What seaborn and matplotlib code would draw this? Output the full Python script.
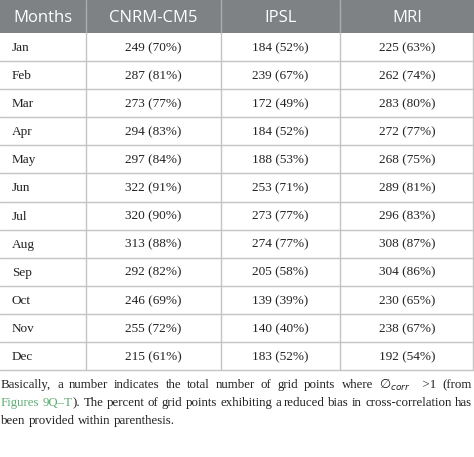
import seaborn as sns
import matplotlib.pyplot as plt
import numpy as np

months = ['Jan', 'Feb', 'Mar', 'Apr', 'May', 'Jun', 'Jul', 'Aug', 'Sep', 'Oct', 'Nov', 'Dec']
columns = ['Months', 'CNRM-CM5', 'IPSL', 'MRI']
cnrm = ['249 (70%)', '287 (81%)', '273 (77%)', '294 (83%)', '297 (84%)', '322 (91%)',
        '320 (90%)', '313 (88%)', '292 (82%)', '246 (69%)', '255 (72%)', '215 (61%)']
ipsl = ['184 (52%)', '239 (67%)', '172 (49%)', '184 (52%)', '188 (53%)', '253 (71%)',
        '273 (77%)', '274 (77%)', '205 (58%)', '139 (39%)', '140 (40%)', '183 (52%)']
mri = ['225 (63%)', '262 (74%)', '283 (80%)', '272 (77%)', '268 (75%)', '289 (81%)',
       '296 (83%)', '308 (87%)', '304 (86%)', '230 (65%)', '238 (67%)', '192 (54%)']
GREEN = '#5fae74'
# footnote: each line is a list of words, each word a list of (text, colour) pieces
note = [
    [[(w, None)] for w in "Basically, a number indicates the total number of grid points where".split()]
    + [[('$\\varnothing_{corr}$', None)], [('  >1', None)], [('(from', None)]],
    [[('Figures', GREEN)], [('9Q\u2013T', GREEN), (').', None)]]
    + [[(w, None)] for w in "The percent of grid points exhibiting a reduced bias in cross-correlation has".split()],
    [[(w, None)] for w in "been provided within parenthesis.".split()],
]

W, H = 474, 457
col_x = [0, 86, 221, 340, 474]
head_h = 33
table_bottom = 370
row_h = (table_bottom - head_h) / len(months)

sns.set_style('white')
fig = plt.figure(figsize=(W / 100, H / 100), dpi=100)
ax = fig.add_axes([0, 0, 1, 1])
ax.set_xlim(0, W)
ax.set_ylim(H, 0)
ax.axis('off')

ax.add_patch(plt.Rectangle((0, 0), W, head_h, color='#7e8284', lw=0))
for i, c in enumerate(columns):
    ax.text((col_x[i] + col_x[i + 1]) / 2, head_h / 2 + 1, c, ha='center', va='center',
            color='white', fontsize=12, family='Open Sans')
for x in col_x[1:-1]:
    ax.plot([x, x], [0, head_h], color='#a9adaf', lw=1)

for r, m in enumerate(months):
    y = head_h + r * row_h
    ax.plot([0, W], [y + row_h, y + row_h], color='#c4c4c4', lw=1)
    cy = y + row_h / 2 + 1
    ax.text(12, cy, m, ha='left', va='center', fontsize=9.5, family='Liberation Serif', color='#222222')
    for i, vals in enumerate([cnrm, ipsl, mri]):
        ax.text((col_x[i + 1] + col_x[i + 2]) / 2, cy, vals[r], ha='center', va='center',
                fontsize=9.5, family='Liberation Serif', color='#222222')
for x in col_x[1:-1] + [W - 0.5]:
    ax.plot([x, x], [head_h, table_bottom], color='#c4c4c4', lw=1)

# justified footnote
fig.canvas.draw()
renderer = fig.canvas.get_renderer()
kw = dict(va='center', fontsize=9.3, family='Liberation Serif')
x0, x1 = 1, 472
for k, words in enumerate(note):
    yy = 385 + k * 18
    placed = []
    for word in words:
        arts = []
        for txt, col in word:
            arts.append(ax.text(0, yy, txt, ha='left', color=col or '#222222', **kw))
        placed.append(arts)
    widths = [[a.get_window_extent(renderer).width for a in arts] for arts in placed]
    total = sum(sum(w) for w in widths)
    if k < len(note) - 1:
        gap = (x1 - x0 - total) / (len(words) - 1)
    else:
        gap = 3.2
    x = x0
    for arts, ws in zip(placed, widths):
        for a, w in zip(arts, ws):
            a.set_x(x)
            x += w
        x += gap

fig.savefig('out.png', dpi=100)
